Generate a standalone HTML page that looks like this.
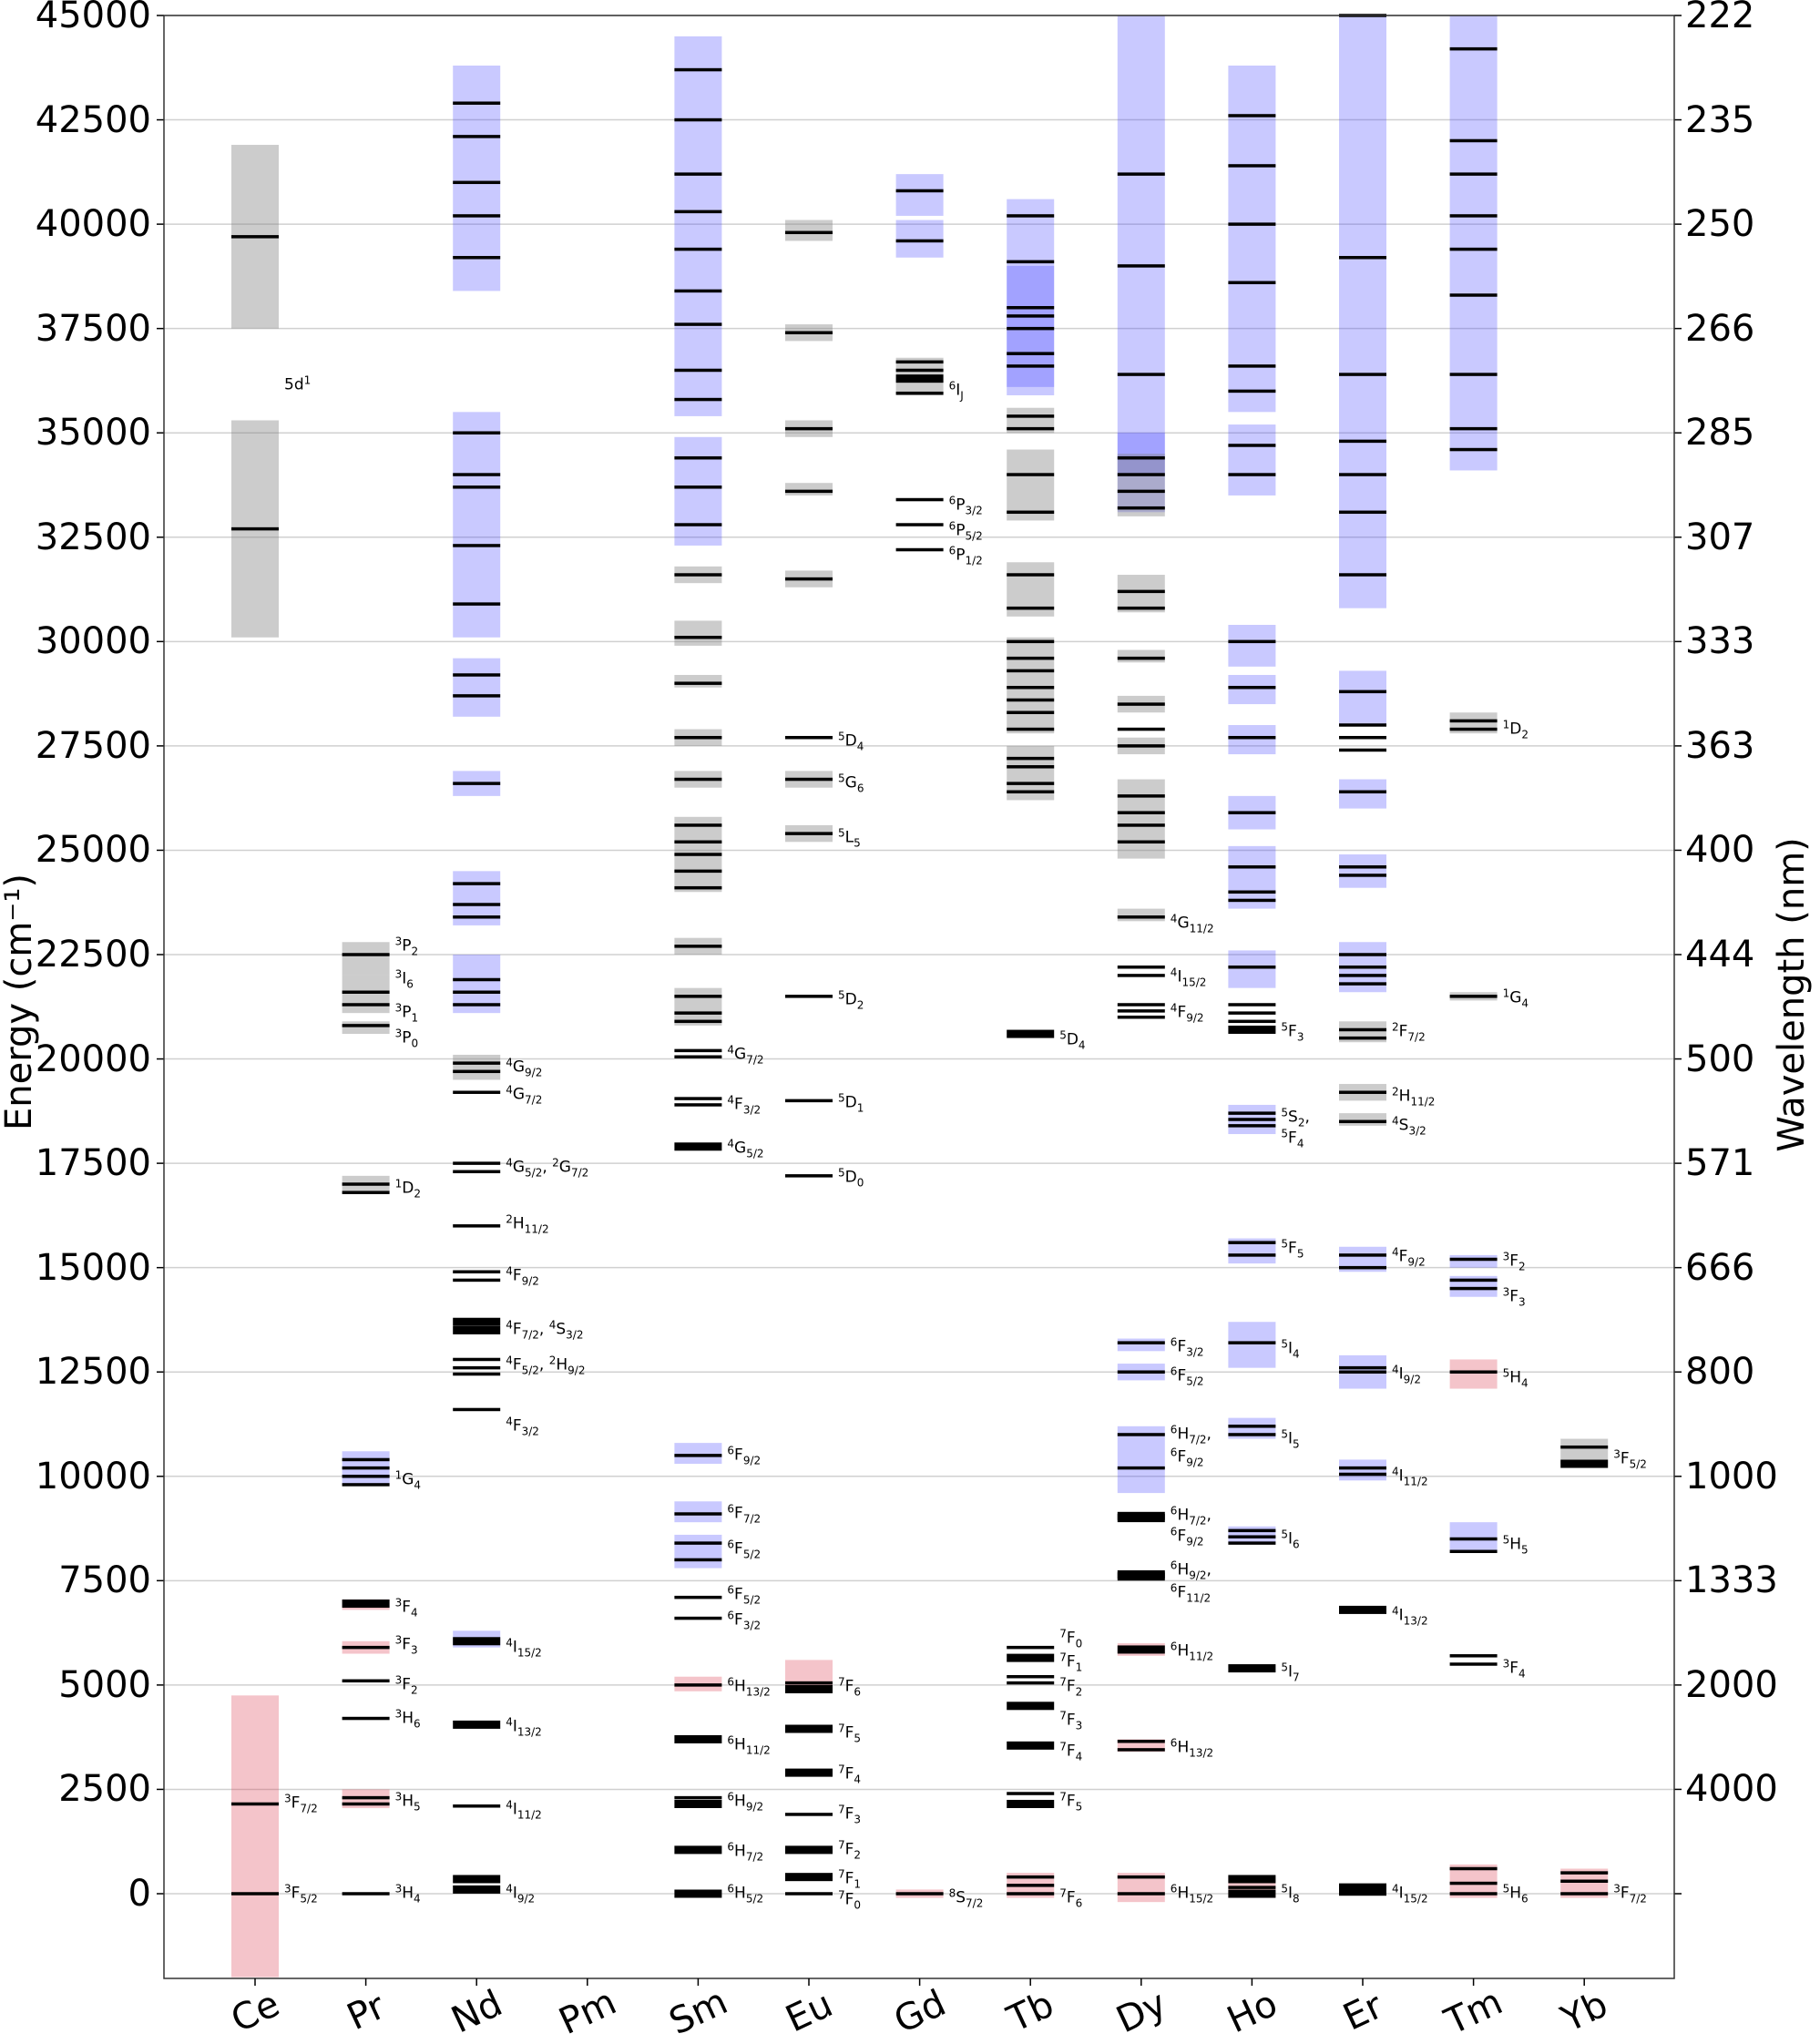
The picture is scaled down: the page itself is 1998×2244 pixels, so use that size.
<!DOCTYPE html>
<html><head><meta charset="utf-8">
<style>
html,body{margin:0;padding:0;background:#fff;}
#wrap{position:relative;width:1998px;height:2244px;overflow:hidden;font-family:"DejaVu Sans","Liberation Sans",sans-serif;}
svg{position:absolute;left:0;top:0;}
.lab{position:absolute;font-size:17px;line-height:18px;white-space:nowrap;color:#000;transform:translateY(-50%);}
.lab sup{font-size:12px;vertical-align:6px;}
.lab sub{font-size:12px;vertical-align:-5px;}
.tick{position:absolute;font-size:40px;line-height:40px;transform:translateY(-50%);}
</style></head>
<body>
<div id="wrap">
<svg id="svg" width="1998" height="2244"></svg>
</div>
<script>
const elements = ["Ce","Pr","Nd","Pm","Sm","Eu","Gd","Tb","Dy","Ho","Er","Tm","Yb"];
const energyTicks = [0,2500,5000,7500,10000,12500,15000,17500,20000,22500,25000,27500,30000,32500,35000,37500,40000,42500,45000];
const wavelengthTicks = ["","4000","2000","1333","1000","800","666","571","500","444","400","363","333","307","285","266","250","235","222"];
// bands: [element index, Emin, Emax, color]
const bands = [
[0,-2000,4750,"p"],[0,37500,41900,"g"],[0,30100,35300,"g"],
[1,22000,22800,"g"],[1,21100,22000,"g"],[1,20600,20900,"g"],[1,16800,17200,"g"],[1,9800,10600,"b"],[1,6800,7050,"p"],[1,5750,6050,"p"],[1,2050,2500,"p"],
[2,38400,43800,"b"],[2,30100,35500,"b"],[2,28200,29600,"b"],[2,26300,26900,"b"],[2,23200,24500,"b"],[2,21100,22500,"b"],[2,19500,20100,"g"],[2,5900,6300,"b"],
[4,35400,44500,"b"],[4,32300,34900,"b"],[4,31400,31800,"g"],[4,29900,30500,"g"],[4,28900,29200,"g"],[4,27500,27900,"g"],[4,26500,26900,"g"],[4,24000,25800,"g"],[4,22500,22900,"g"],[4,20800,21700,"g"],[4,10300,10800,"b"],[4,8900,9400,"b"],[4,7800,8600,"b"],[4,4850,5200,"p"],
[5,39600,40100,"g"],[5,37200,37600,"g"],[5,34900,35300,"g"],[5,33500,33800,"g"],[5,31300,31700,"g"],[5,26500,26900,"g"],[5,25200,25600,"g"],[5,4850,5600,"p"],
[6,40200,41200,"b"],[6,39200,40100,"b"],[6,35900,36800,"g"],[6,-100,100,"p"],
[7,35900,40600,"b"],[7,36100,39000,"b"],[7,35000,35600,"g"],[7,32900,34600,"g"],[7,30600,31900,"g"],[7,28900,30100,"g"],[7,27800,28900,"g"],[7,26200,27500,"g"],[7,-100,500,"p"],
[8,33100,45000,"b"],[8,34000,35000,"b"],[8,33000,34500,"g"],[8,30700,31600,"g"],[8,29500,29800,"g"],[8,28300,28700,"g"],[8,27300,27700,"g"],[8,24800,26700,"g"],[8,23300,23600,"g"],[8,12300,12700,"b"],[8,13000,13300,"b"],[8,9600,11200,"b"],[8,5700,6000,"p"],[8,3400,3700,"p"],[8,-200,500,"p"],
[9,35500,43800,"b"],[9,33500,35200,"b"],[9,29400,30400,"b"],[9,28500,29200,"b"],[9,27300,28000,"b"],[9,25500,26300,"b"],[9,23600,25100,"b"],[9,21700,22600,"b"],[9,18200,18900,"b"],[9,15100,15700,"b"],[9,12600,13700,"b"],[9,10900,11400,"b"],[9,8400,8800,"b"],[9,-100,400,"p"],
[10,30800,45000,"b"],[10,28000,29300,"b"],[10,26000,26700,"b"],[10,24100,24900,"b"],[10,21600,22800,"b"],[10,20400,20900,"g"],[10,19000,19400,"g"],[10,18400,18700,"g"],[10,14900,15500,"b"],[10,12100,12900,"b"],[10,9900,10400,"b"],
[11,34100,45000,"b"],[11,27800,28300,"g"],[11,21400,21600,"g"],[11,15000,15300,"b"],[11,14300,14800,"b"],[11,12100,12800,"p"],[11,8200,8900,"b"],[11,-100,700,"p"],
[12,10300,10900,"g"],[12,-100,600,"p"]
];
// lines: [element index, E, thick(1) or normal(0)]
const lines = [
[0,39700,0],[0,32700,0],[0,2150,0],[0,0,0],
[1,22500,0],[1,21600,0],[1,21300,0],[1,20800,0],[1,17000,0],[1,16800,0],[1,10400,0],[1,10200,0],[1,10000,0],[1,9800,0],[1,6950,1],[1,5900,0],[1,5100,0],[1,4200,0],[1,2300,0],[1,2150,0],[1,0,0],
[2,42900,0],[2,42100,0],[2,41000,0],[2,40200,0],[2,39200,0],[2,35000,0],[2,34000,0],[2,33700,0],[2,32300,0],[2,30900,0],[2,29200,0],[2,28700,0],[2,26600,0],[2,24200,0],[2,23700,0],[2,23400,0],[2,21900,0],[2,21600,0],[2,21300,0],[2,19900,0],[2,19700,0],[2,19200,0],[2,17500,0],[2,17300,0],[2,16000,0],[2,14900,0],[2,14700,0],[2,13700,1],[2,13500,1],[2,12800,0],[2,12600,0],[2,12450,0],[2,11600,0],[2,6050,1],[2,4050,1],[2,2100,0],[2,350,1],[2,100,1],
[4,43700,0],[4,42500,0],[4,41200,0],[4,40300,0],[4,39400,0],[4,38400,0],[4,37600,0],[4,36500,0],[4,35800,0],[4,34400,0],[4,33700,0],[4,32800,0],[4,31600,0],[4,30100,0],[4,29000,0],[4,27700,0],[4,26700,0],[4,25600,0],[4,25200,0],[4,24900,0],[4,24500,0],[4,24100,0],[4,22700,0],[4,21500,0],[4,21100,0],[4,20900,0],[4,20200,0],[4,20050,0],[4,19050,0],[4,18900,0],[4,17900,1],[4,10500,0],[4,9100,0],[4,8400,0],[4,8000,0],[4,7100,0],[4,6600,0],[4,5000,0],[4,3700,1],[4,2300,0],[4,2150,1],[4,1050,1],[4,0,1],
[5,39800,0],[5,37400,0],[5,35100,0],[5,33600,0],[5,31500,0],[5,27700,0],[5,26700,0],[5,25400,0],[5,21500,0],[5,19000,0],[5,17200,0],[5,5050,0],[5,4900,1],[5,3950,1],[5,2900,1],[5,1900,0],[5,1050,1],[5,400,1],[5,0,0],
[6,40800,0],[6,39600,0],[6,36700,0],[6,36500,0],[6,36300,1],[6,35950,0],[6,33400,0],[6,32800,0],[6,32200,0],[6,0,0],
[7,40200,0],[7,39100,0],[7,38000,0],[7,37800,0],[7,37500,0],[7,36900,0],[7,36600,0],[7,35400,0],[7,35100,0],[7,34000,0],[7,33100,0],[7,31600,0],[7,30800,0],[7,30000,0],[7,29600,0],[7,29300,0],[7,28900,0],[7,28600,0],[7,28300,0],[7,27900,0],[7,27200,0],[7,27000,0],[7,26600,0],[7,26400,0],[7,20600,1],[7,5900,0],[7,5650,1],[7,5200,0],[7,5050,0],[7,4500,1],[7,3550,1],[7,2400,0],[7,2150,1],[7,400,0],[7,200,0],[7,0,0],
[8,41200,0],[8,39000,0],[8,36400,0],[8,34400,0],[8,34000,0],[8,33600,0],[8,33200,0],[8,31200,0],[8,30800,0],[8,29600,0],[8,28500,0],[8,27900,0],[8,27500,0],[8,26300,0],[8,25900,0],[8,25600,0],[8,25200,0],[8,23400,0],[8,22200,0],[8,22000,0],[8,21300,0],[8,21150,0],[8,21000,0],[8,13200,0],[8,12500,0],[8,11000,0],[8,10200,0],[8,9050,1],[8,9000,1],[8,7650,1],[8,7600,1],[8,5850,1],[8,3650,0],[8,3450,0],[8,400,0],[8,0,0],
[9,42600,0],[9,41400,0],[9,40000,0],[9,38600,0],[9,36600,0],[9,36000,0],[9,34700,0],[9,34000,0],[9,30000,0],[9,28900,0],[9,27700,0],[9,25900,0],[9,24600,0],[9,24000,0],[9,23800,0],[9,22200,0],[9,21300,0],[9,21100,0],[9,20900,0],[9,20700,1],[9,18700,0],[9,18550,0],[9,18400,0],[9,15600,0],[9,15300,0],[9,13200,0],[9,11200,0],[9,11000,0],[9,8700,0],[9,8550,0],[9,8400,0],[9,5400,1],[9,350,1],[9,150,0],[9,0,1],
[10,45000,0],[10,39200,0],[10,36400,0],[10,34800,0],[10,34000,0],[10,33100,0],[10,31600,0],[10,28800,0],[10,28000,0],[10,27700,0],[10,27400,0],[10,26400,0],[10,24600,0],[10,24400,0],[10,22500,0],[10,22200,0],[10,22000,0],[10,21800,0],[10,20700,0],[10,20500,0],[10,19200,0],[10,18500,0],[10,15300,0],[10,15000,0],[10,12600,0],[10,12500,0],[10,10200,0],[10,10050,0],[10,6800,1],[10,150,1],[10,50,1],
[11,44200,0],[11,42000,0],[11,41200,0],[11,40200,0],[11,39400,0],[11,38300,0],[11,36400,0],[11,35100,0],[11,34600,0],[11,28100,0],[11,27900,0],[11,21500,0],[11,15200,0],[11,14700,0],[11,14500,0],[11,12500,0],[11,8500,0],[11,8200,0],[11,5700,0],[11,5500,0],[11,600,0],[11,250,0],[11,0,0],
[12,10700,0],[12,10300,1],[12,500,0],[12,300,0],[12,0,0]
];
// labels: [element index, E, text]
const labels = [
[0,36200,"5d^1"],[0,2150,"^3F_7/2"],[0,0,"^3F_5/2"],
[1,22700,"^3P_2"],[1,21900,"^3I_6"],[1,21100,"^3P_1"],[1,20500,"^3P_0"],[1,16900,"^1D_2"],[1,9900,"^1G_4"],[1,6850,"^3F_4"],[1,5950,"^3F_3"],[1,5000,"^3F_2"],[1,4200,"^3H_6"],[1,2200,"^3H_5"],[1,0,"^3H_4"],
[2,19800,"^4G_9/2"],[2,19150,"^4G_7/2"],[2,17400,"^4G_5/2, ^2G_7/2"],[2,16050,"^2H_11/2"],[2,14800,"^4F_9/2"],[2,13500,"^4F_7/2, ^4S_3/2"],[2,12650,"^4F_5/2, ^2H_9/2"],[2,11200,"^4F_3/2"],[2,5900,"^4I_15/2"],[2,4000,"^4I_13/2"],[2,2000,"^4I_11/2"],[2,0,"^4I_9/2"],
[4,20100,"^4G_7/2"],[4,18900,"^4F_3/2"],[4,17850,"^4G_5/2"],[4,10500,"^6F_9/2"],[4,9100,"^6F_7/2"],[4,8250,"^6F_5/2"],[4,7150,"^6F_5/2"],[4,6550,"^6F_3/2"],[4,4950,"^6H_13/2"],[4,3550,"^6H_11/2"],[4,2200,"^6H_9/2"],[4,1000,"^6H_7/2"],[4,0,"^6H_5/2"],
[5,27600,"^5D_4"],[5,26600,"^5G_6"],[5,25300,"^5L_5"],[5,21400,"^5D_2"],[5,18950,"^5D_1"],[5,17150,"^5D_0"],[5,4950,"^7F_6"],[5,3850,"^7F_5"],[5,2850,"^7F_4"],[5,1900,"^7F_3"],[5,1050,"^7F_2"],[5,350,"^7F_1"],[5,-150,"^7F_0"],
[6,36000,"^6I_J"],[6,33250,"^6P_3/2"],[6,32650,"^6P_5/2"],[6,32050,"^6P_1/2"],[6,-100,"^8S_7/2"],
[7,20450,"^5D_4"],[7,6100,"^7F_0"],[7,5550,"^7F_1"],[7,4950,"^7F_2"],[7,4150,"^7F_3"],[7,3400,"^7F_4"],[7,2200,"^7F_5"],[7,-100,"^7F_6"],
[8,23250,"^4G_11/2"],[8,21950,"^4I_15/2"],[8,21100,"^4F_9/2"],[8,13100,"^6F_3/2"],[8,12400,"^6F_5/2"],[8,11000,"^6H_7/2,"],[8,10450,"^6F_9/2"],[8,9050,"^6H_7/2,"],[8,8550,"^6F_9/2"],[8,7750,"^6H_9/2,"],[8,7200,"^6F_11/2"],[8,5800,"^6H_11/2"],[8,3500,"^6H_13/2"],[8,0,"^6H_15/2"],
[9,20650,"^5F_3"],[9,18600,"^5S_2,"],[9,18100,"^5F_4"],[9,15450,"^5F_5"],[9,13050,"^5I_4"],[9,10900,"^5I_5"],[9,8500,"^5I_6"],[9,5300,"^5I_7"],[9,0,"^5I_8"],
[10,20650,"^2F_7/2"],[10,19100,"^2H_11/2"],[10,18400,"^4S_3/2"],[10,15250,"^4F_9/2"],[10,12450,"^4I_9/2"],[10,10000,"^4I_11/2"],[10,6650,"^4I_13/2"],[10,0,"^4I_15/2"],
[11,27900,"^1D_2"],[11,21450,"^1G_4"],[11,15150,"^3F_2"],[11,14300,"^3F_3"],[11,12350,"^5H_4"],[11,8350,"^5H_5"],[11,5400,"^3F_4"],[11,0,"^5H_6"],
[12,10400,"^3F_5/2"],[12,0,"^3F_7/2"]
];

const L=180,R=1838,T=17,B=2172,Y0=2079,K=(2079-17)/45000;
const X=i=>280+i*121.6;
const Y=e=>Y0-e*K;
const HW=26;
const NS="http://www.w3.org/2000/svg";
const svg=document.getElementById('svg');
const wrap=document.getElementById('wrap');
const col={g:"rgba(128,128,128,0.4)",b:"rgba(60,60,255,0.28)",p:"rgba(220,60,80,0.3)"};
function mk(tag,attrs){const e=document.createElementNS(NS,tag);for(const k in attrs)e.setAttribute(k,attrs[k]);svg.appendChild(e);return e;}
energyTicks.forEach((e,i)=>{
  const g=mk('line',{x1:L,x2:R,y1:Y(e),y2:Y(e),stroke:"#d0d0d0","stroke-width":1.5});
  
  
  const t=document.createElement('div');t.className='tick';
  t.style.right=(1998-166)+'px';t.style.top=Y(e)+'px';t.textContent=e;
  
  
  wrap.appendChild(t);
  if(wavelengthTicks[i]){
    const r=document.createElement('div');r.className='tick';
    r.style.left='1850px';r.style.top=Y(e)+'px';r.textContent=wavelengthTicks[i];
    
    
    wrap.appendChild(r);
  }
  [[L-8,L],[R,R+8]].forEach(p=>{const tk=mk('line',{x1:p[0],x2:p[1],y1:Y(e),y2:Y(e),stroke:"#000","stroke-width":1.5});
    
    });
});
bands.forEach(b=>{
  const r=mk('rect',{x:X(b[0])-HW,width:2*HW,y:Y(b[2]),height:Y(b[1])-Y(b[2]),fill:col[b[3]]});
  
  
});
lines.forEach(l=>{
  const h=l[2]?9:3.5;
  const r=mk('rect',{x:X(l[0])-HW,width:2*HW,y:Y(l[1])-h/2,height:h,fill:"#000"});
  
  
});
const frame=mk('rect',{x:L,y:T,width:R-L,height:B-T,fill:"none",stroke:"#333","stroke-width":1.5});


function fmt(s){return s.replace(/\^(\S)/g,'<sup>$1</sup>').replace(/_([0-9\/]+|[A-Za-z])/g,'<sub>$1</sub>');}
labels.forEach(l=>{
  const d=document.createElement('div');d.className='lab';
  d.style.left=(X(l[0])+HW+6)+'px';d.style.top=Y(l[1])+'px';
  d.innerHTML=fmt(l[2]);
  
  
  wrap.appendChild(d);
});
elements.forEach((el,i)=>{
  const t=mk('text',{x:X(i),y:2222,"font-size":40,"text-anchor":"middle","font-family":"DejaVu Sans, sans-serif",transform:`rotate(-25 ${X(i)} 2208)`});
  t.textContent=el;
  
  
  const tk=mk('line',{x1:X(i),x2:X(i),y1:B,y2:B+8,stroke:"#000","stroke-width":1.5});
  
  
});
const yt=mk('text',{x:0,y:0,"font-size":40,"text-anchor":"middle","font-family":"DejaVu Sans, sans-serif",transform:"translate(34 1100) rotate(-90)"});
yt.textContent="Energy (cm\u207B\u00B9)";


const rt=mk('text',{x:0,y:0,"font-size":40,"text-anchor":"middle","font-family":"DejaVu Sans, sans-serif",transform:"translate(1980 1092) rotate(-90)"});
rt.textContent="Wavelength (nm)";


</script>
</body></html>
